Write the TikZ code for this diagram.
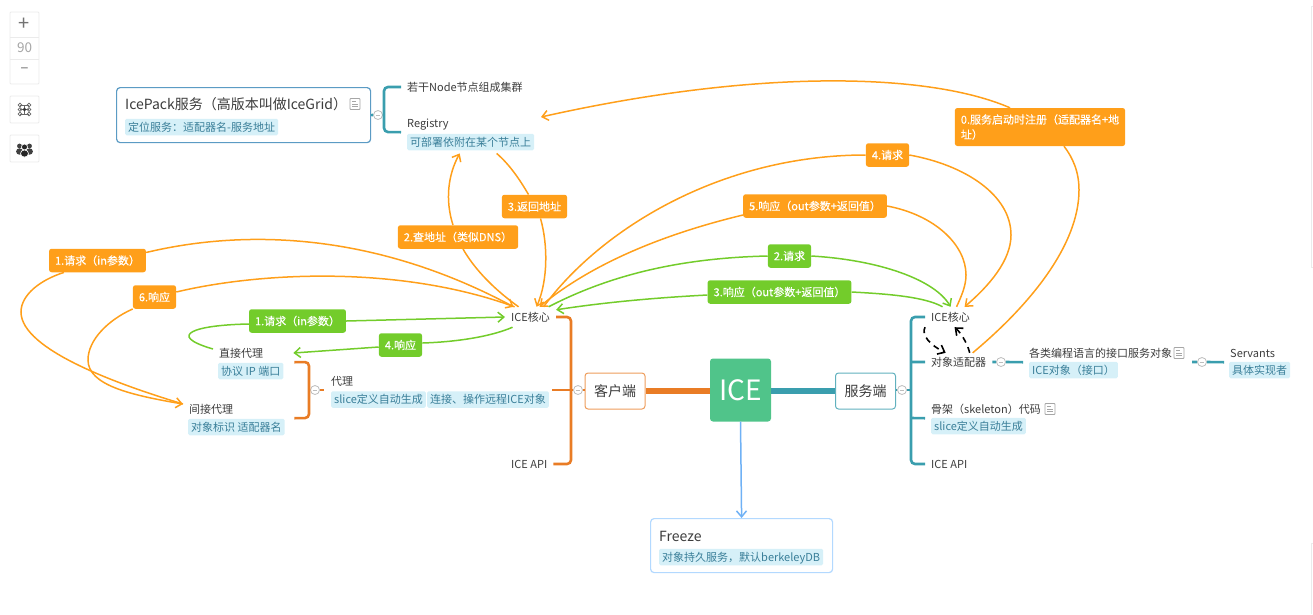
\documentclass[tikz,border=0pt]{standalone}
\usepackage{fontspec}
\setmainfont{Noto Sans CJK SC}
\newfontfamily\tagfont[FakeBold=0.25]{Noto Sans CJK SC}
\usepackage{xcolor}
\usepackage{tikz}
\usetikzlibrary{arrows.meta,positioning}

\definecolor{tagorange}{HTML}{FF9F1A}
\definecolor{taggreen}{HTML}{73CC2B}
\definecolor{brorange}{HTML}{E97C25}
\definecolor{brteal}{HTML}{3A9EAE}
\definecolor{notefill}{HTML}{D6F0F8}
\definecolor{notetext}{HTML}{3A7F99}
\definecolor{textdark}{HTML}{3C3C3C}
\definecolor{icegreen}{HTML}{50C48A}
\definecolor{freezeblue}{HTML}{B3D9FF}
\definecolor{arrowblue}{HTML}{6FB1F5}
\definecolor{packblue}{HTML}{5B9BC4}
\definecolor{togglegray}{HTML}{BDBDBD}
\definecolor{panelgray}{HTML}{EBEBEB}

\tikzset{
	>={Straight Barb[length=6pt,width=10pt]},
	topic/.style={anchor=west,inner xsep=6pt,inner ysep=0pt,minimum height=18pt,text height=9.5pt,text depth=1pt,text=textdark,font=\fontsize{11}{13}\selectfont},
	notetag/.style={anchor=west,fill=notefill,rounded corners=1.5pt,inner xsep=3pt,inner ysep=0pt,minimum height=16.5pt,text height=9.5pt,text depth=1pt,text=notetext,font=\fontsize{11}{13}\selectfont},
	flowtag/.style={rounded corners=2.5pt,inner xsep=6pt,inner ysep=0pt,minimum height=23.5pt,text=white,font=\tagfont\fontsize{11}{13}\selectfont},
	orangetag/.style={flowtag,fill=tagorange},
	greentag/.style={flowtag,fill=taggreen},
	sidebox/.style={draw=brorange!75,fill=white,rounded corners=3pt,line width=1pt,minimum width=60pt,minimum height=36pt,text=textdark,font=\fontsize{14}{16}\selectfont},
	mainbox/.style={anchor=north west,fill=white,rounded corners=3.5pt,line width=1.2pt},
	togglenode/.style={circle,draw=togglegray,fill=white,line width=.8pt,minimum size=9pt,inner sep=0pt},
	panelbox/.style={draw=panelgray,fill=white,line width=.8pt,rounded corners=1pt},
	orangeflow/.style={tagorange,line width=1.5pt},
	greenflow/.style={taggreen,line width=1.5pt},
	selfflow/.style={black,line width=1.6pt,dash pattern=on 6pt off 5pt},
	orangebr/.style={brorange,line width=2.6pt,rounded corners=4pt},
	tealbr/.style={brteal,line width=2.6pt,rounded corners=4pt},
	noteicon/.pic={
		\draw[gray!70,fill=white,line width=.9pt,rounded corners=.8pt] (-5,-5.5) rectangle (5,5.5);
		\draw[gray!70,line width=.8pt] (-2.8,-2.5) -- (1,-2.5) (-2.8,0) -- (2.8,0) (-2.8,2.5) -- (2.8,2.5);
	},
}

\begin{document}
\begin{tikzpicture}[x=1pt,y=-1pt]
	\useasboundingbox (0,0) rectangle (1313,614);

	% \draw left panel
	\draw[panelbox] (10,12) rectangle (39,84);
	\draw[panelgray,line width=.8pt] (10,37) -- (39,37) (10,59) -- (39,59);
	\node[text=gray!90!black,font=\fontsize{20}{20}\selectfont,inner sep=0pt] (zoomIn) at (24.5,24.5) {+};
	\node[text=gray!70,font=\fontsize{13.5}{14}\selectfont,inner sep=0pt] (zoomValue) at (24.5,47.5) {90};
	\node[text=gray!90!black,font=\fontsize{14}{14}\selectfont,inner sep=0pt] (zoomOut) at (24.5,71) {−};
	\draw[panelbox] (10,96) rectangle (39,123);
	\foreach \y in {105,109.5,114} {
		\draw[black!60,line width=.8pt] (20,\y) -- (29,\y);
		\draw[black!60,line width=.7pt] (20,\y) circle (1.9pt) (29,\y) circle (1.9pt);
	}
	\draw[black!60,line width=.8pt] (24.5,105) -- (24.5,114);
	\fill[black!80] (24.5,109.5) circle (1.8pt);
	\draw[panelbox] (10,135) rectangle (39,162);
	\foreach \x in {19.5,29.5} {
		\fill[black!75] (\x,146) circle (2.4pt);
		\fill[black!75] (\x,151.5) ellipse (3.4pt and 3.2pt);
	}
	\fill[black!85,draw=white,line width=.6pt] (24.5,147) circle (3pt);
	\fill[black!85,draw=white,line width=.6pt] (24.5,153.5) ellipse (4pt and 3.6pt);

	% \draw scrollbar edge
	\draw[panelgray,line width=1pt] (1313,6) -- (1311,6) -- (1311,267) -- (1313,267);
	\draw[panelgray,line width=1pt] (1313,543) -- (1311,543) -- (1311,614);

	% centre and main topics
	\node[fill=icegreen,rounded corners=3pt,minimum width=61pt,minimum height=63pt,inner sep=0pt,text=white,font=\fontsize{28}{30}\selectfont] (ice) at (740.5,390) {ICE};
	\node[sidebox] (client) at (615,391) {客户端};
	\node[sidebox,draw=brteal!80] (server) at (865.5,391) {服务端};

	\node[mainbox,draw=packblue,minimum width=254pt,minimum height=55pt] (pack) at (116,87) {};
	\node[anchor=west,inner sep=0pt,text=textdark,font=\fontsize{14}{16}\selectfont] (packTitle) at (125,104) {IcePack服务（高版本叫做IceGrid）};
	\node[notetag] (packNote) at (125,127) {定位服务：适配器名-服务地址};
	\pic at (355,104) {noteicon};

	\node[mainbox,draw=freezeblue,minimum width=182pt,minimum height=54pt] (freeze) at (650,518) {};
	\node[anchor=west,inner sep=0pt,text=textdark,font=\fontsize{14}{16}\selectfont] (freezeTitle) at (659,536) {Freeze};
	\node[notetag] (freezeNote) at (659,557) {对象持久服务，默认berkeleyDB};

	% pack children
	\node[topic] (nodes) at (401,87) {若干Node节点组成集群};
	\node[topic] (reg) at (401,123) {Registry};
	\node[notetag] (regNote) at (407,142) {可部署依附在某个节点上};

	% client children
	\node[topic,minimum height=20pt] (cCore) at (505,317) {ICE核心};
	\node[topic] (cApi) at (505,464) {ICE API};
	\node[topic] (proxy) at (325,381) {代理};
	\node[notetag] (proxyNoteA) at (331,399.5) {slice定义自动生成};
	\node[notetag] (proxyNoteB) at (427,399.5) {连接、操作远程ICE对象};
	\node[topic] (direct) at (213,353) {直接代理};
	\node[notetag] (directNote) at (218,371) {协议 IP 端口};
	\node[topic] (indirect) at (183,409) {间接代理};
	\node[notetag] (indirectNote) at (188,427) {对象标识 适配器名};

	% server children
	\node[topic,minimum height=20pt] (sCore) at (925,317) {ICE核心};
	\node[topic] (adapter) at (925,362) {对象适配器};
	\node[topic] (skeleton) at (925,409) {骨架（skeleton）代码};
	\node[notetag] (skeletonNote) at (931,426) {slice定义自动生成};
	\node[topic] (sApi) at (925,464) {ICE API};
	\node[topic] (iface) at (1023,353) {各类编程语言的接口服务对象};
	\node[notetag] (ifaceNote) at (1029,370) {ICE对象（接口）};
	\node[topic] (servants) at (1224,353) {Servants};
	\node[notetag] (servantsNote) at (1229,370) {具体实现者};
	\pic at (1050,409) {noteicon};
	\pic at (1179,353) {noteicon};

	% \draw toggles
	\foreach \name/\x/\y in {tgPack/378/115,tgClient/578/390,tgProxy/315/390,tgServer/902/390,tgAdapter/1001/362,tgIface/1202/362} {
		\node[togglenode] (\name) at (\x,\y) {};
		\draw[togglegray,line width=.7pt] (\x-2.2,\y) -- (\x+2.2,\y);
	}

	% \draw main connectors
	\draw[brorange,line width=6pt] (client.east) -- (ice.west |- client.east);
	\draw[brteal,line width=6pt] (ice.east |- server.west) -- (server.west);
	\draw[->,arrowblue,line width=1.5pt] (ice.south) -- (freeze.north);

	% \draw brackets
	\draw[tealbr] (nodes.west) -- (384,87) -- (384,132) -- (reg.south west);
	\draw[tealbr,rounded corners=0pt] (pack.east) -- (tgPack.west) (tgPack.east) -- (384,115);

	\draw[orangebr] (cCore.east) -- (571,317) -- (571,464) -- (cApi.east);
	\draw[orangebr,rounded corners=0pt] ([xshift=3pt]proxyNoteB.east |- tgClient.west) -- (tgClient.west);
	\draw[orangebr,rounded corners=0pt] (tgClient.east) -- (client.west |- tgClient.east);
	\draw[orangebr] ([xshift=25pt]direct.south east) -- (309,362) -- (309,418) -- ([xshift=55pt]indirect.south east);
	\draw[orangebr,rounded corners=0pt] (309,390) -- (tgProxy.west) (tgProxy.east) -- ([xshift=-1pt]proxy.west |- tgProxy.east);

	\draw[tealbr] (sCore.west) -- (911,317) -- (911,464) -- (sApi.west);
	\draw[tealbr,rounded corners=0pt] (adapter.west) -- (911,362) (skeleton.south west) -- (911,418);
	\draw[tealbr,rounded corners=0pt] (server.east |- tgServer.west) -- (tgServer.west) (tgServer.east) -- (911,390);
	\draw[tealbr,rounded corners=0pt] (adapter.east) -- (tgAdapter.west) (tgAdapter.east) -- (iface.south west);
	\draw[tealbr,rounded corners=0pt] ([xshift=-5pt]tgIface.west) -- (tgIface.west) (tgIface.east) -- (servants.south west);

	% flow labels
	\node[orangetag,align=left,minimum height=38pt] (tagZero) at (1040,127) {0.服务启动时注册（适配器名+地\\[2pt]址）};
	\node[orangetag] (tagFour) at (887.5,155) {4.请求};
	\node[orangetag] (tagFive) at (815,206) {5.响应（out参数+返回值）};
	\node[greentag] (tagTwoG) at (789.5,256) {2.请求};
	\node[greentag] (tagThreeG) at (779.5,292) {3.响应（out参数+返回值）};
	\node[orangetag] (tagAddr) at (458,237) {2.查地址（类似DNS）};
	\node[orangetag] (tagBack) at (534.5,206.5) {3.返回地址};
	\node[orangetag] (tagOne) at (97.5,260.5) {1.请求（in参数）};
	\node[orangetag] (tagSix) at (154.5,297) {6.响应};
	\node[greentag] (tagOneG) at (297.5,321) {1.请求（in参数）};
	\node[greentag] (tagFourG) at (400.5,345) {4.响应};

	\coordinate (regIn) at (541,117);

	% \draw orange flows
	\draw[orangeflow] ([xshift=14pt]adapter.north) .. controls (1030,305) and (1079,245) .. (1079,190) .. controls (1079,172) and (1073,158) .. ([xshift=24pt]tagZero.south);
	\draw[orangeflow,->] ([xshift=-30pt]tagZero.north) .. controls (930,73) and (760,68) .. (regIn);

	\draw[orangeflow] ([xshift=13pt]cCore.north) .. controls (600,230) and (720,155) .. (tagFour.west);
	\draw[orangeflow,->] (tagFour.east) .. controls (965,165) and (1011,195) .. (1011,235) .. controls (1011,260) and (990,285) .. ([xshift=14pt]sCore.north);

	\draw[orangeflow] ([xshift=6pt]sCore.north) .. controls (962,295) and (966,285) .. (966,275) .. controls (966,245) and (935,215) .. (tagFive.east);
	\draw[orangeflow,->] ([yshift=-9pt]tagFive.west) .. controls (660,235) and (590,265) .. ([xshift=9pt]cCore.north);

	\draw[orangeflow] ([xshift=-12pt]cCore.north) .. controls (495,290) and (475,270) .. ([xshift=5pt]tagAddr.south);
	\draw[orangeflow,->] ([xshift=-5pt]tagAddr.north) .. controls (445,200) and (448,175) .. ([shift={(-11pt,-3pt)}]regNote.south);

	\draw[orangeflow] ([shift={(26pt,-3pt)}]regNote.south) .. controls (510,165) and (520,180) .. ([xshift=-6pt]tagBack.north);
	\draw[orangeflow,->] ([xshift=6pt]tagBack.south) .. controls (548,245) and (548,280) .. ([xshift=6pt]cCore.north);

	\draw[orangeflow] ([yshift=5pt]indirect.west) .. controls (120,385) and (21,350) .. (21,312) .. controls (21,295) and (40,280) .. ([xshift=15pt]tagOne.south west);
	\draw[orangeflow,->] ([yshift=8pt]tagOne.east) .. controls (240,230) and (370,230) .. ([xshift=-17pt]cCore.north);

	\draw[orangeflow,->] (tagSix.south west) .. controls (108,320) and (88,340) .. (88,360) .. controls (88,385) and (130,395) .. ([yshift=5pt]indirect.west);
	\draw[orangeflow] ([yshift=5pt]tagSix.east) .. controls (260,272) and (400,265) .. ([xshift=-16pt]cCore.north);

	% \draw green flows
	\draw[greenflow] ([xshift=18pt]cCore.north) .. controls (610,275) and (680,258) .. (tagTwoG.west);
	\draw[greenflow,->] (tagTwoG.east) .. controls (880,260) and (935,280) .. (sCore.north);

	\draw[greenflow] ([xshift=-8pt]sCore.north) .. controls (925,297) and (890,294) .. (tagThreeG.east);
	\draw[greenflow,->] ([yshift=-3pt]tagThreeG.west) .. controls (650,298) and (600,303) .. ([yshift=-3pt]cCore.north east);

	\draw[greenflow] ([yshift=4pt]direct.west) .. controls (165,335) and (195,325) .. ([yshift=-3pt]tagOneG.west);
	\draw[greenflow,->] (tagOneG.east) -- (cCore.west);

	\draw[greenflow] ([xshift=-18pt]cCore.south) .. controls (490,337) and (455,342) .. ([yshift=2pt]tagFourG.east);
	\draw[greenflow,->] ([yshift=-2pt]tagFourG.west) -- ([xshift=24pt]direct.east);

	% \draw dashed self flows
	\draw[selfflow,-{Straight Barb[length=6pt,width=10pt,line width=1.6pt]}] (sCore.south west) .. controls (921,335) and (930,345) .. ([xshift=-13pt]adapter.north);
	\draw[selfflow,-{Straight Barb[length=6pt,width=10pt,line width=1.6pt]}] ([xshift=11pt]adapter.north) .. controls (967,342) and (960,332) .. ([xshift=4pt]sCore.south);
\end{tikzpicture}
\end{document}
